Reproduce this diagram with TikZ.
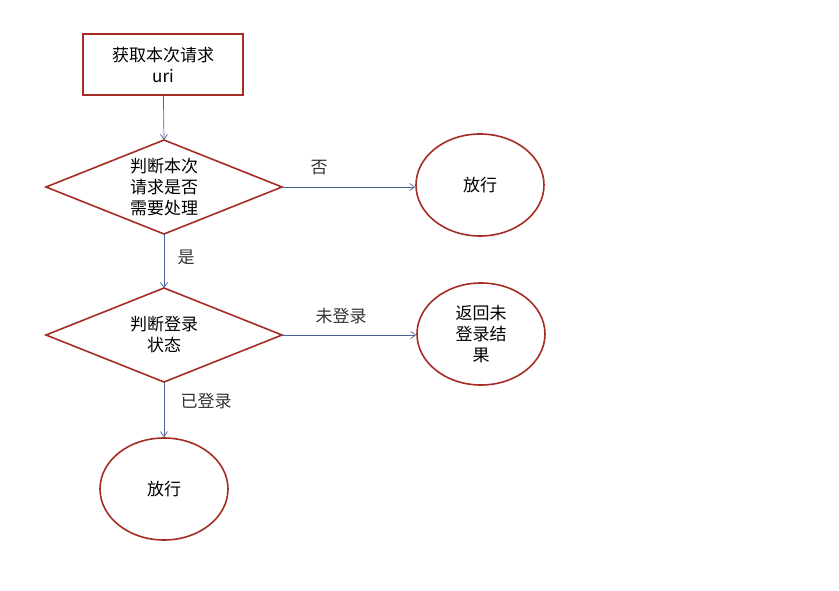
\documentclass[tikz,border=0pt]{standalone}
\usepackage{fontspec}
\setmainfont{Noto Sans CJK SC}
\usetikzlibrary{shapes.geometric,arrows.meta}
\definecolor{bord}{RGB}{165,45,35}
\definecolor{arr}{RGB}{70,100,150}
\begin{document}
\begin{tikzpicture}[x=1pt,y=-1pt,font=\fontsize{17}{21}\selectfont,
  box/.style={draw=bord,line width=2.5pt,minimum width=160pt,minimum height=61pt,align=center,inner sep=2pt},
  dia/.style={draw=bord,line width=1.6pt,diamond,minimum width=236pt,minimum height=94pt,inner sep=0pt,align=center},
  ell/.style={draw=bord,line width=1.6pt,ellipse,minimum width=128pt,minimum height=102pt,align=center},
  con/.style={draw=arr,line width=0.7pt,-{Straight Barb[length=5pt,width=7pt]}},
  lab/.style={font=\fontsize{17}{21}\selectfont,text=black!80}]
\useasboundingbox (0,0) rectangle (839,591);
\node[box] (a) at (163,64.5) {获取本次请求\\uri};
\path (46,187) coordinate (d1l) -- (282,187) coordinate (d1r);
\draw[draw=bord,line width=1.6pt] (46,187) -- (164,140) -- (282,187) -- (164,234) -- cycle;
\node[align=center,inner sep=0pt] (d1) at (164,187) {判断本次\\请求是否\\需要处理};
\coordinate (d1t) at (164,140); \coordinate (d1b) at (164,234);
\draw[draw=bord,line width=1.6pt] (46,335) -- (164,288) -- (282,335) -- (164,382) -- cycle;
\node[align=center,inner sep=0pt] (d2) at (164,335) {判断登录\\状态};
\coordinate (d2t) at (164,288); \coordinate (d2b) at (164,382); \coordinate (d2r) at (282,335);
\node[ell] (e1) at (480,185) {放行};
\node[ell] (e2) at (481,334) {返回未\\登录结\\果};
\node[ell] (e3) at (164,489) {放行};
\draw[con] (a) -- (d1t);
\draw[con] (d1r) -- (e1.west |- d1r);
\draw[con] (d1b) -- (d2t);
\draw[con] (d2r) -- (e2.west |- d2r);
\draw[con] (d2b) -- (e3);
\node[lab] (l1) at (319,168) {否};
\node[lab] (l2) at (186,257) {是};
\node[lab] (l3) at (341,316) {未登录};
\node[lab] (l4) at (206,401) {已登录};
\end{tikzpicture}
\end{document}
